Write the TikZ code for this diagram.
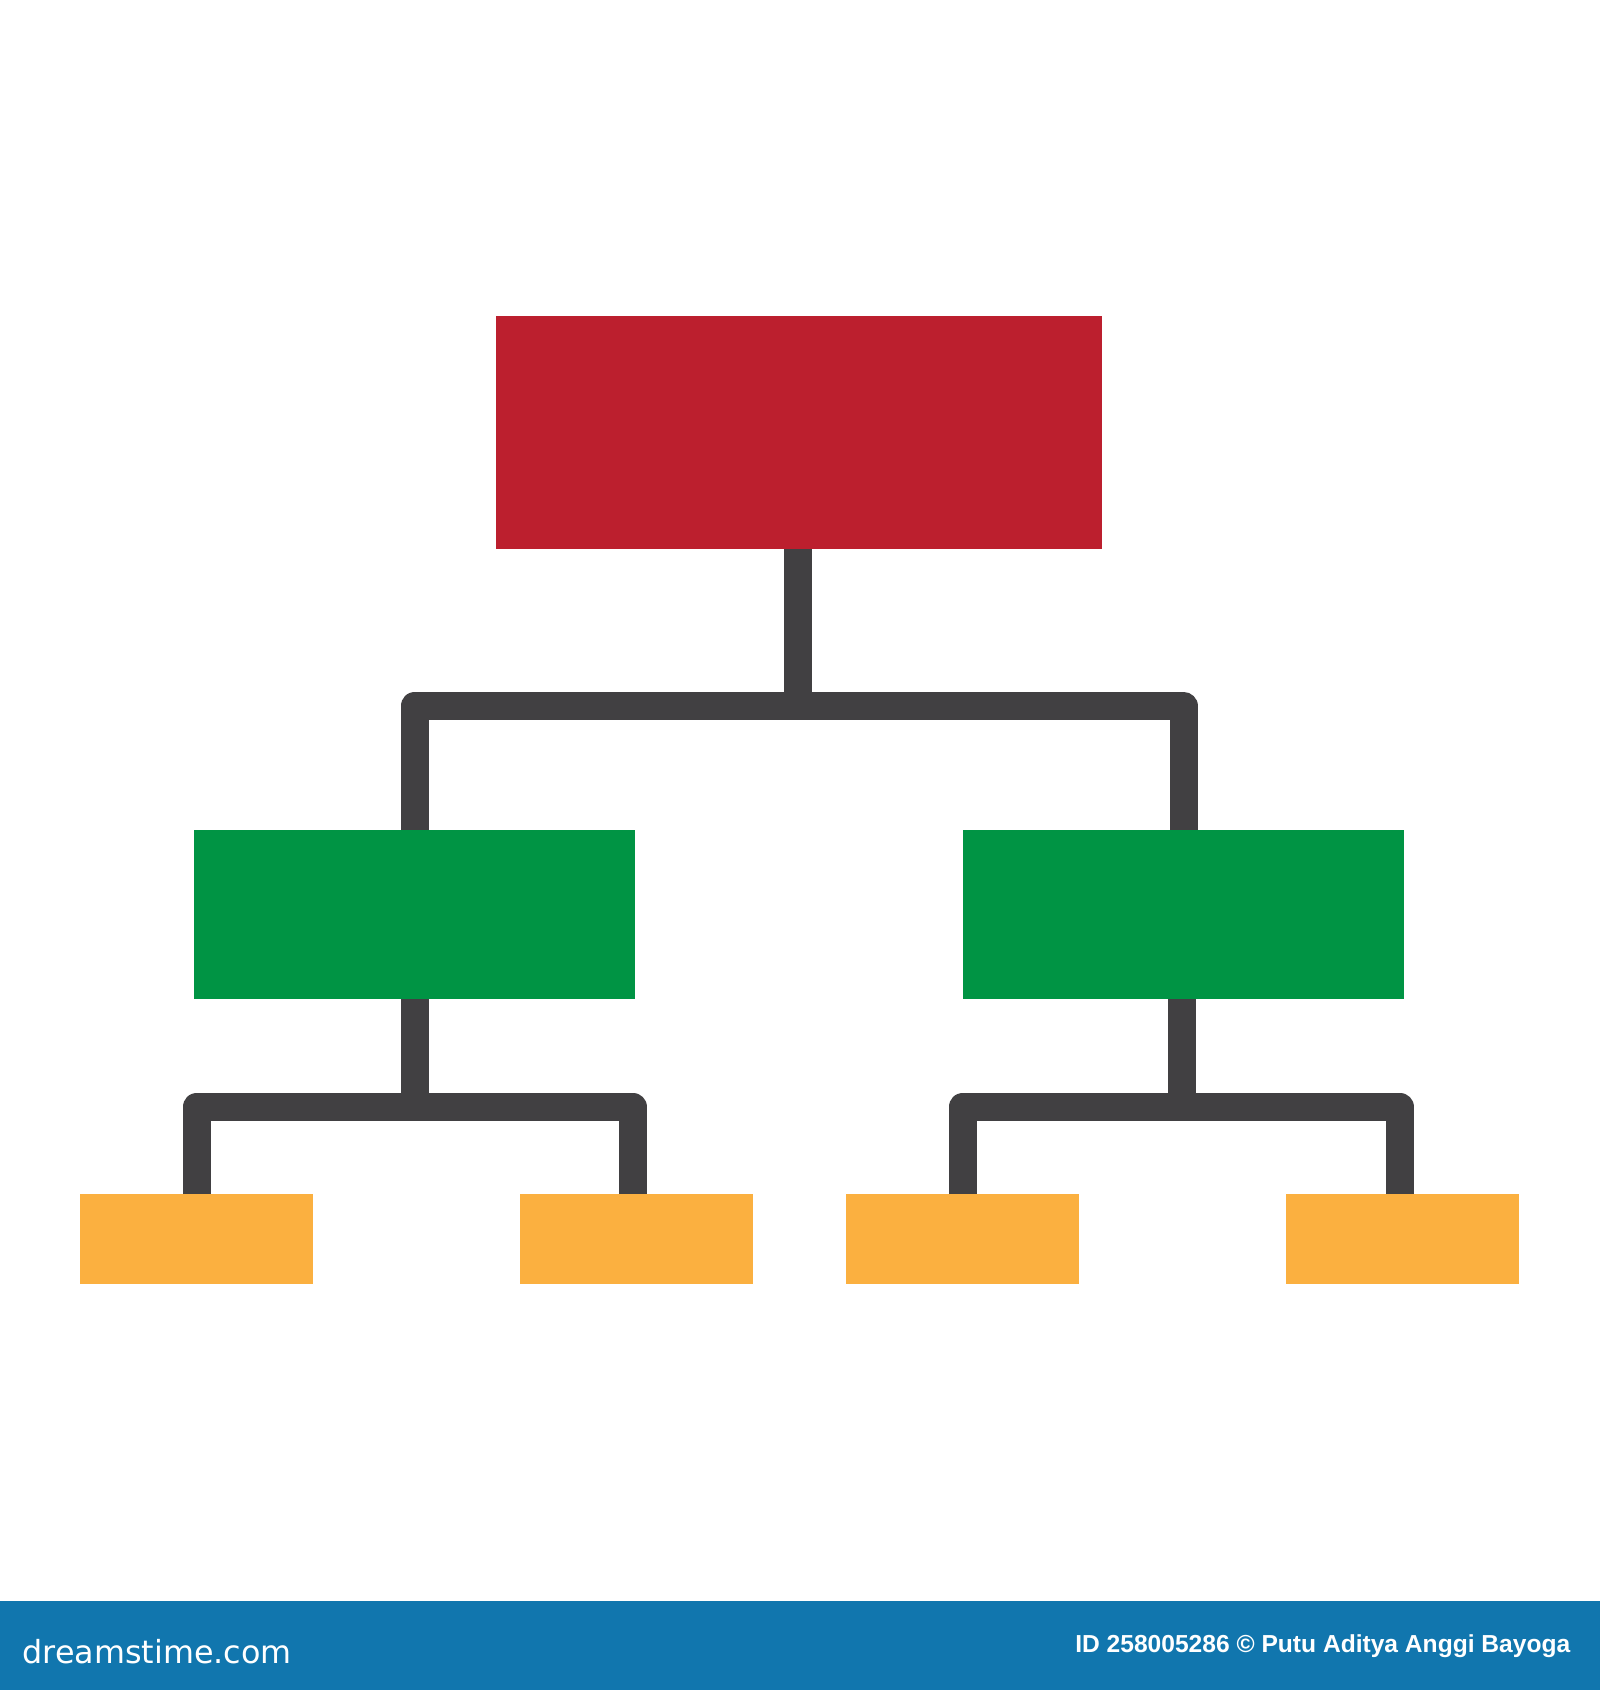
\documentclass[tikz,border=0pt]{standalone}
\usepackage{fontspec}
\setmainfont{Liberation Sans}
\usepackage{graphicx}
\definecolor{topred}{HTML}{BC1F2E}
\definecolor{midgreen}{HTML}{009444}
\definecolor{leaforange}{HTML}{FBB040}
\definecolor{linkgray}{HTML}{414042}
\definecolor{bannerblue}{HTML}{1176AE}
\tikzset{
  box/.style={draw=none, inner sep=0pt, outer sep=0pt, anchor=north west},
  link/.style={draw=linkgray, line width=2.8mm, line join=round, line cap=butt},
}
\begin{document}
\begin{tikzpicture}[x=0.1mm, y=-0.1mm]
\useasboundingbox (0,0) rectangle (1600,1690);
\fill[white] (0,0) rectangle (1600,1690);
% boxes (placed first to get anchors)
\node[box, fill=topred, minimum width=60.6mm, minimum height=23.3mm] (top) at (496,316) {};
\node[box, fill=midgreen, minimum width=44.1mm, minimum height=16.9mm] (gl) at (194,830) {};
\node[box, fill=midgreen, minimum width=44.1mm, minimum height=16.9mm] (gr) at (963,830) {};
\node[box, fill=leaforange, minimum width=23.3mm, minimum height=9mm] (o1) at (80,1194) {};
\node[box, fill=leaforange, minimum width=23.3mm, minimum height=9mm] (o2) at (520,1194) {};
\node[box, fill=leaforange, minimum width=23.3mm, minimum height=9mm] (o3) at (846,1194) {};
\node[box, fill=leaforange, minimum width=23.3mm, minimum height=9mm] (o4) at (1286,1194) {};
\coordinate (j1) at (798,706);
\coordinate (jl) at (415,1107);
\coordinate (jr) at (1182,1107);
% connectors
\draw[link] (top.south -| j1) -- (j1);
\draw[link] (gl.north) -- (gl.north |- j1) -- (gr.north |- j1) -- (gr.north);
\draw[link] (gl.south -| jl) -- (jl);
\draw[link] (o1.north) -- (o1.north |- jl) -- (633,1107) -- (633,1194);
\draw[link] (gr.south -| jr) -- (jr);
\draw[link] (o3.north) -- (o3.north |- jr) -- (1400,1107) -- (1400,1194);
% banner
\fill[bannerblue] (0,1601) rectangle (1600,1690);
\node[anchor=west, inner sep=0pt, text=white] (brand) at (22,1652)
  {\resizebox{26.9mm}{!}{\fontspec{DejaVu Sans}dreamstime.com}};
\node[anchor=east, inner sep=0pt, text=white] (credit) at (1571,1646)
  {\resizebox{49.5mm}{!}{\bfseries ID 258005286 © Putu Aditya Anggi Bayoga}};
\end{tikzpicture}
\end{document}
